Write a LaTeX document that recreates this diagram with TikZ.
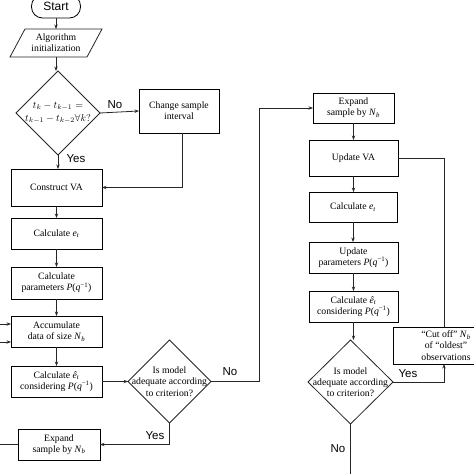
\documentclass[tikz,border=0pt]{standalone}
\usepackage{fontspec}
\setmainfont{Liberation Serif}
\newfontfamily\lblfont{Liberation Sans}
\usetikzlibrary{arrows.meta}
\newcommand\myet{\textit{e}\textsubscript{\textit{t}}}
\newcommand\myhet{\textit{ê}\textsubscript{\textit{t}}}
\newcommand\mynb{\textit{N}\textsubscript{\textit{b}}}
\newcommand\mypq{\textit{P}(\textit{q}\textsuperscript{−1})}
\tikzset{
  every node/.style={inner sep=0pt, outer sep=0pt},
  boxtxt/.style={font=\fontsize{9.7}{11.3}\selectfont, align=center},
  procbox/.style={boxtxt, draw, line width=0.8pt, rectangle},
  ghost/.style={boxtxt, rectangle},
  lbl/.style={font=\lblfont\fontsize{11.5}{13}\selectfont},
  conn/.style={line width=0.8pt, draw=black!85},
  arr/.style={conn, -{Stealth[length=4.5pt,width=3.4pt]}},
}
\begin{document}
\begin{tikzpicture}[x=1pt,y=-1pt]
\useasboundingbox (0,0) rectangle (474,474);
\clip (0,0) rectangle (474,474);

% start
\node[boxtxt, draw, line width=0.8pt, rounded corners=11pt, minimum width=49pt, minimum height=23pt, font=\lblfont\fontsize{12}{14}\selectfont] (start) at (56,6.5) {\raisebox{-2pt}{Start}};

% init parallelogram
\node[ghost, minimum width=92pt, minimum height=28pt] (init) at (56,43) {Algorithm\\initialization};
\draw[conn] ([xshift=15pt]init.north west) -- (init.north east) -- ([xshift=-15pt]init.south east) -- (init.south west) -- cycle;

% diamond 1
\node[ghost, minimum width=84pt, minimum height=84pt, font=\fontsize{10.1}{12}\selectfont] (d1) at (58,113) {$t_k - t_{k-1} =$\\[1pt]$t_{k-1} - t_{k-2}\forall k?$};
\draw[conn] (d1.north) -- (d1.east) -- (d1.south) -- (d1.west) -- cycle;

\node[procbox, minimum width=80pt, minimum height=44pt] (change) at (179,111) {Change sample\\interval};

% left column
\node[procbox, minimum width=91pt, minimum height=37pt] (construct) at (56.5,187.5) {Construct VA};
\node[procbox, minimum width=91pt, minimum height=31pt] (calc1) at (56.5,233.5) {Calculate \myet};
\node[procbox, minimum width=91pt, minimum height=32pt] (param1) at (56.5,283) {Calculate\\parameters \mypq};
\node[procbox, minimum width=91pt, minimum height=31pt] (accum) at (56.5,331.5) {Accumulate\\data of size \mynb};
\node[procbox, minimum width=91pt, minimum height=31pt] (hat1) at (56.5,381.5) {Calculate \myhet\\considering \mypq};
\node[procbox, minimum width=82pt, minimum height=31pt] (expand1) at (59,444.5) {Expand\\sample by \mynb};

% diamond 2
\node[ghost, minimum width=83pt, minimum height=83pt] (d2) at (169.5,381.5) {Is model\\adequate according\\to criterion?};
\draw[conn] (d2.north) -- (d2.east) -- (d2.south) -- (d2.west) -- cycle;

% right column
\node[procbox, minimum width=81pt, minimum height=30pt] (expand2) at (353.5,108) {Expand\\sample by \mynb};
\node[procbox, minimum width=89pt, minimum height=36pt] (updva) at (353.5,158) {Update VA};
\node[procbox, minimum width=88pt, minimum height=30pt] (calc2) at (353,207) {Calculate \myet};
\node[procbox, minimum width=89pt, minimum height=31pt] (updpar) at (353.5,257.5) {Update\\parameters \mypq};
\node[procbox, minimum width=89pt, minimum height=31pt] (hat2) at (353.5,306.5) {Calculate \myhet\\considering \mypq};

% diamond 3
\node[ghost, minimum width=85pt, minimum height=84pt] (d3) at (350.5,382) {Is model\\adequate according\\to criterion?};
\draw[conn] (d3.north) -- (d3.east) -- (d3.south) -- (d3.west) -- cycle;

% cut off box (extends past right edge)
\node[procbox, minimum width=87pt, minimum height=37pt] (cutbox) at (436.5,345.5) {};
\node[boxtxt] (cuttxt) at (446,345.5) {“Cut off” \mynb\\of “oldest”\\observations};

% coordinates
\coordinate (inA) at (0,324);
\coordinate (inB) at (0,342);
\coordinate (leftout) at (0,444.5);
\coordinate (loopx) at (259,381.5);
\coordinate (cutx) at (444,327);
\coordinate (cutb) at (444,364);
\coordinate (bottom) at (350.5,474);

% connectors left
\draw[arr] (start.south) -- (init.north);
\draw[arr] (init.south) -- (init.south |- d1.north);
\draw[arr] (d1.east) -- (change.west);
\draw[arr] (d1.south) -- (d1.south |- construct.north);
\draw[arr] ([xshift=3pt]change.south) |- (construct.east);
\draw[arr] (construct.south) -- (calc1.north);
\draw[arr] (calc1.south) -- (param1.north);
\draw[arr] (param1.south) -- (accum.north);
\draw[arr] (accum.south) -- (hat1.north);
\draw[arr] (inA) -- (inA -| accum.west);
\draw[arr] (inB) -- (inB -| accum.west);
\draw[arr] (hat1.east) -- (d2.west);
\draw[arr] (d2.south) |- (expand1.east);
\draw[conn] (expand1.west) -- (leftout);
\draw[conn] (d2.east) -- (loopx);
\draw[arr] (loopx) |- (expand2.west);

% connectors right
\draw[arr] (expand2.south) -- (updva.north);
\draw[arr] (updva.south) -- (updva.south |- calc2.north);
\draw[arr] (calc2.south) -- (calc2.south |- updpar.north);
\draw[arr] (updpar.south) -- (hat2.north);
\draw[arr] (hat2.south) -- (hat2.south |- d3.north);
\draw[conn] (updva.east) -| (cutx);
\draw[arr] (d3.east) -| (cutb);
\draw[conn] (d3.south) -- (bottom);

% labels
\node[lbl] (no1) at (115,105) {No};
\node[lbl] (yes1) at (76,159) {Yes};
\node[lbl] (no2) at (230,372) {No};
\node[lbl] (yes2) at (155,436) {Yes};
\node[lbl] (yes3) at (408,374) {Yes};
\node[lbl] (no3) at (338,449) {No};
\end{tikzpicture}
\end{document}
